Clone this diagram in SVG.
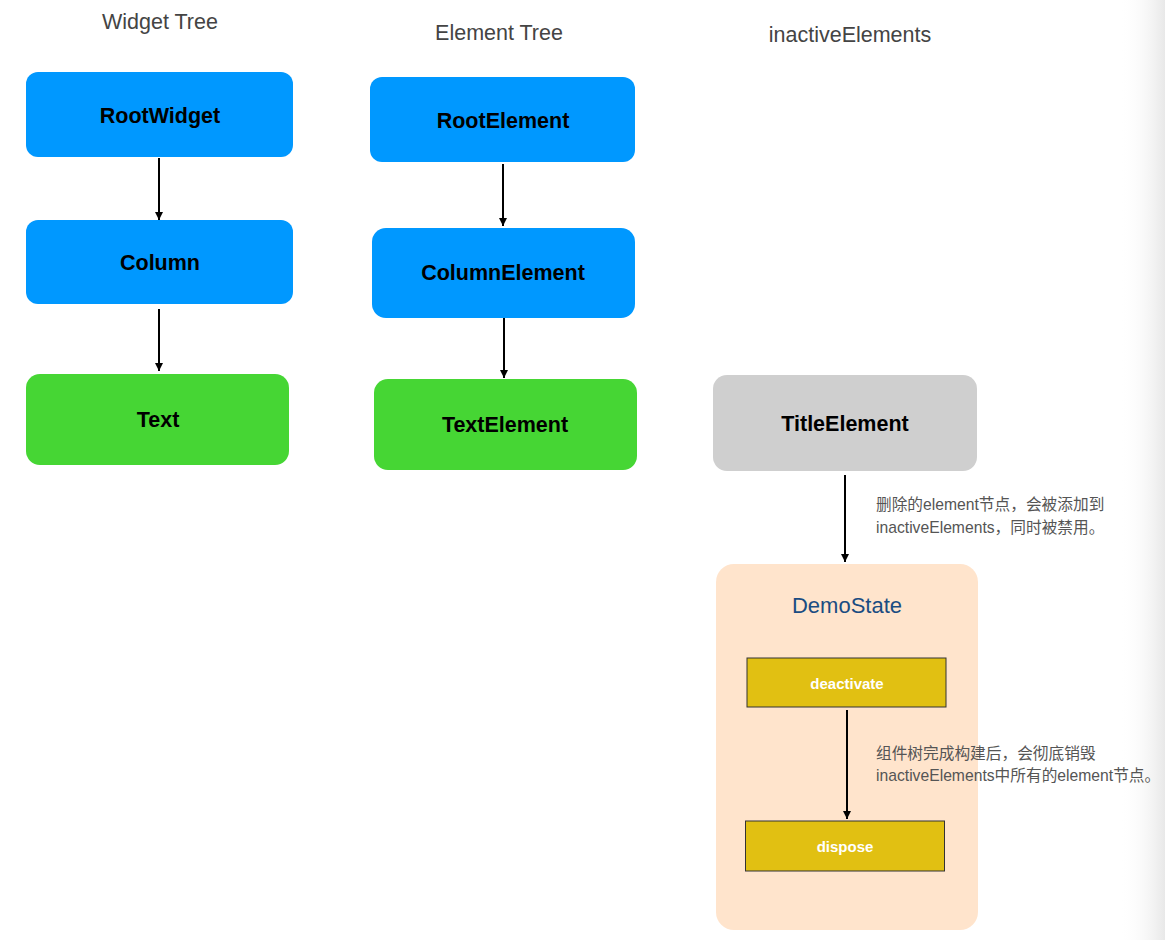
<svg xmlns="http://www.w3.org/2000/svg" width="1165" height="940" viewBox="0 0 1165 940">
<defs>
<marker id="arr" viewBox="0 0 10 10" refX="10" refY="5" markerWidth="8" markerHeight="8" markerUnits="userSpaceOnUse" orient="auto">
<path d="M0,0 L10,5 L0,10 z" fill="#000"/>
</marker>
<linearGradient id="edge" x1="0" y1="0" x2="1" y2="0">
<stop offset="0" stop-color="#ffffff" stop-opacity="0"/>
<stop offset="1" stop-color="#e8e8e8"/>
</linearGradient>
<style>
.title{font-family:"Liberation Sans","Noto Sans CJK SC",sans-serif;font-size:21.5px;fill:#444;text-anchor:middle}
.lbl{font-family:"Liberation Sans","Noto Sans CJK SC",sans-serif;font-size:21.5px;font-weight:bold;fill:#000;text-anchor:middle;dominant-baseline:central}
.blue{fill:#0098FF}
.green{fill:#46D634}
.gray{fill:#CFCFCF}
.peach{fill:#FFE4CC}
.gold{fill:#E1C012;stroke:#333;stroke-width:1}
.wl{font-family:"Liberation Sans","Noto Sans CJK SC",sans-serif;font-size:15px;font-weight:bold;fill:#fff;text-anchor:middle;dominant-baseline:central}
.note{font-family:"Liberation Sans","Noto Sans CJK SC",sans-serif;font-size:15.7px;fill:#555}
.conn{stroke:#000;stroke-width:2;fill:none;marker-end:url(#arr)}
</style>
</defs>
<rect x="0" y="0" width="1165" height="940" fill="#fff"/>
<rect x="1120" y="0" width="45" height="940" fill="url(#edge)"/>

<text class="title" x="160" y="29">Widget Tree</text>
<text class="title" x="499" y="40">Element Tree</text>
<text class="title" x="850" y="42">inactiveElements</text>

<g id="RootWidget"><rect class="blue" x="26" y="72" width="267" height="85" rx="12"/><text class="lbl" x="160" y="116">RootWidget</text></g>
<g id="Column"><rect class="blue" x="26" y="220" width="267" height="84" rx="12"/><text class="lbl" x="160" y="263">Column</text></g>
<g id="Text"><rect class="green" x="26" y="374" width="263" height="91" rx="14"/><text class="lbl" x="158" y="420">Text</text></g>

<g id="RootElement"><rect class="blue" x="370" y="77" width="265" height="85" rx="12"/><text class="lbl" x="503" y="121">RootElement</text></g>
<g id="ColumnElement"><rect class="blue" x="372" y="228" width="263" height="90" rx="14"/><text class="lbl" x="503" y="273">ColumnElement</text></g>
<g id="TextElement"><rect class="green" x="374" y="379" width="263" height="91" rx="14"/><text class="lbl" x="505" y="425">TextElement</text></g>

<g id="TitleElement"><rect class="gray" x="713" y="375" width="264" height="96" rx="14"/><text class="lbl" x="845" y="424">TitleElement</text></g>

<g id="DemoState"><rect class="peach" x="716" y="564" width="262" height="366" rx="18"/>
<text x="847" y="613" style="font-family:'Liberation Sans',sans-serif;font-size:22px;fill:#1A4C82;text-anchor:middle">DemoState</text></g>
<g id="deactivate"><rect class="gold" x="747" y="658" width="199" height="49"/><text class="wl" x="847" y="683">deactivate</text></g>
<g id="dispose"><rect class="gold" x="745.5" y="821" width="199" height="50"/><text class="wl" x="845" y="846">dispose</text></g>

<g id="connectors">
<line class="conn" x1="159" y1="158" x2="159" y2="220"/>
<line class="conn" x1="159" y1="309" x2="159" y2="371"/>
<line class="conn" x1="503" y1="164" x2="503" y2="226"/>
<line class="conn" x1="504" y1="318" x2="504" y2="378"/>
<line class="conn" x1="845" y1="475" x2="845" y2="562"/>
<line class="conn" x1="847" y1="710" x2="847" y2="819"/>
</g>

<g id="notes">
<text class="note" x="876" y="510">删除的element节点，会被添加到</text>
<text class="note" x="876" y="533">inactiveElements，同时被禁用。</text>
<text class="note" x="876" y="759">组件树完成构建后，会彻底销毁</text>
<text class="note" x="876" y="781">inactiveElements中所有的element节点。</text>
</g>
</svg>
